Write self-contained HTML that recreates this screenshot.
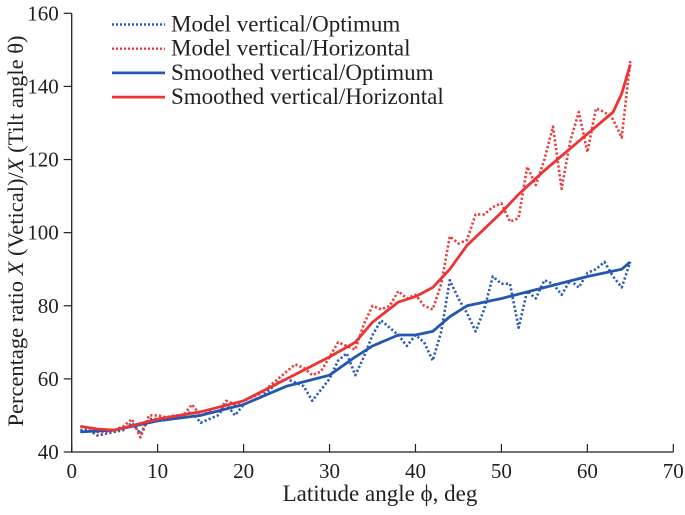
<!DOCTYPE html>
<html><head><meta charset="utf-8"><style>
body{margin:0;background:#fff}
svg text{font-family:"Liberation Serif",serif;fill:#231f20}
</style></head><body>
<svg id="c" width="685" height="510" xmlns="http://www.w3.org/2000/svg"></svg>
<script>
const latitudes=[];for(let i=1;i<=65;i++)latitudes.push(i);
const modelHorizontal=[47,46.5,45.5,45.5,46,47,49,44,50,50,49.5,50,50,53,50,51,51,54,53,54,55,56,58,60,62,64,63,61,62,66,70,69,68,75,80,79,80,84,82,83,80,79,86,99,97,98,105,105,107,108,103,104,118,113,120,129,112,125,133,122,134,133,131,126,147];
const modelOptimum=[46,46,44.5,45,45.5,46,48,45,49,49,49,49.5,50,51,48,49,50,53,50,53,54,55,57,59,60,59,58,54,57,60,65,67,61,66,72,76,74,72,69,72,70,65,73,87,82,78,73,79,88,86,86,74,84,82,87,86,83,87,85,89,90,92,88,85,92];
const smoothX=[1,3,5,10,15,20,25,30,33,35,38,40,42,44,46,48,50,52,55,58,60,63,64,65];
const smoothHorizontal=[47,46.3,46,49,51,54,60,66,70,75.5,81,82.5,85,90,96.5,101,105.5,110.5,117,123,127,133,138,146];
const smoothOptimumX=[1,5,10,15,20,25,30,33,35,38,40,42,44,46,50,55,60,64,65];
const smoothOptimum=[45.5,46,48.5,50,53,58,61,66,69,72,72,73,77,80,82,85,88,90,92];
const xTicks=[0,10,20,30,40,50,60,70];
const yTicks=[40,60,80,100,120,140,160];
const NS="http://www.w3.org/2000/svg";
const svg=document.getElementById('c');
const X=v=>71.7+v*(673.3-71.7)/70;
const Y=v=>452-(v-40)*(452-13.3)/120;
function mk(t,a){const e=document.createElementNS(NS,t);for(const k in a)e.setAttribute(k,a[k]);svg.appendChild(e);return e;}
let e;
e=mk('path',{d:`M${X(0)} ${Y(160)}V${Y(40)}H${X(70)}`,fill:'none',stroke:'#231f20','stroke-width':1.3});


xTicks.forEach(t=>{
 e=mk('line',{x1:X(t),x2:X(t),y1:Y(40),y2:Y(40)-8,stroke:'#231f20','stroke-width':1.2});
 
 
 e=mk('text',{x:X(t),y:478,'text-anchor':'middle','font-size':21});e.textContent=t;
 
 
});
yTicks.forEach(t=>{
 e=mk('line',{x1:X(0)-8,x2:X(0),y1:Y(t),y2:Y(t),stroke:'#231f20','stroke-width':1.2});
 
 
 e=mk('text',{x:X(0)-13,y:Y(t)+7,'text-anchor':'end','font-size':21});e.textContent=t;
 
 
});
function line(xs,ys,col,dash,name){
 const d=xs.map((x,i)=>(i?'L':'M')+X(x).toFixed(1)+' '+Y(ys[i]).toFixed(1)).join('');
 const a={d,fill:'none',stroke:col,'stroke-width':dash?2.6:2.8,'stroke-linejoin':'round'};
 if(dash)a['stroke-dasharray']='2.2 2.2';
 e=mk('path',a);
 
 
}
line(latitudes,modelOptimum,'#2a5cb8',true,'model-optimum-line');
line(latitudes,modelHorizontal,'#ee3a3a',true,'model-horizontal-line');
line(smoothOptimumX,smoothOptimum,'#2357b0',false,'smoothed-optimum-line');
line(smoothX,smoothHorizontal,'#ec3434',false,'smoothed-horizontal-line');
const leg=[['Model vertical/Optimum','#2a5cb8',true],['Model vertical/Horizontal','#ee3a3a',true],['Smoothed vertical/Optimum','#2357b0',false],['Smoothed vertical/Horizontal','#ec3434',false]];
leg.forEach((l,i)=>{
 const y=24.5+i*24.2;
 const a={x1:112,x2:165,y1:y,y2:y,stroke:l[1],'stroke-width':l[2]?2.4:2.8};
 if(l[2])a['stroke-dasharray']='2 2';
 e=mk('line',a);
 
 
 e=mk('text',{x:171,y:y+7,'font-size':23});e.textContent=l[0];
 
 
});
e=mk('text',{x:380,y:501,'text-anchor':'middle','font-size':23});e.textContent='Latitude angle \u03d5, deg';


e=mk('text',{x:0,y:0,'text-anchor':'middle','font-size':22.5,transform:'translate(23,231) rotate(-90)'});
e.innerHTML='Percentage ratio <tspan font-style="italic">X</tspan> (Vetical)/<tspan font-style="italic">X</tspan> (Tilt angle \u03b8)';


</script>
</body></html>
